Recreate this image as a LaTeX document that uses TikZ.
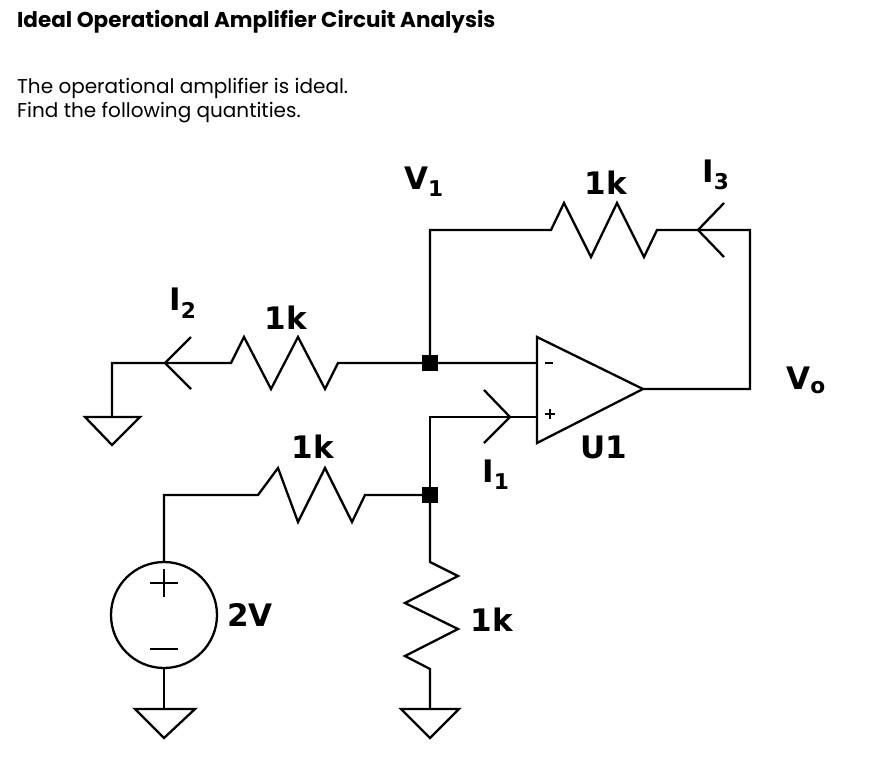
\documentclass[tikz,border=0pt]{standalone}
\usepackage{fontspec}
\setmainfont{Poppins}
\newfontfamily\cf{DejaVu Sans}
\begin{document}
\begin{tikzpicture}[x=1pt,y=-1pt,line width=2.3pt,line join=miter,
  lbl/.style={font=\cf\bfseries\fontsize{31}{34}\selectfont,inner sep=0},
  txt/.style={font=\fontsize{20}{22}\selectfont,inner sep=0,anchor=west}]
\useasboundingbox (0,0) rectangle (877,777);
\node[txt,font=\bfseries\fontsize{21.5}{24}\selectfont] (title) at (16,22) {Ideal Operational Amplifier Circuit Analysis};
\node[txt] (t1) at (16,88) {The operational amplifier is ideal.};
\node[txt] (t2) at (16,113) {Find the following quantities.};
% opamp
\draw (537,337) -- (643,389) -- (537,443) -- cycle;
\draw[line width=1.6pt] (545,363) -- (553,363) (545,414) -- (555,414) (550,409) -- (550,419);
% coordinates
\coordinate (J1) at (430,363);
\coordinate (J2) at (430,495);
% feedback
\draw (J1) -- (430,230) -- (551,230) -- (564,203) -- (591,257) -- (617,203) -- (644,257) -- (657,230) -- (750,230) -- (750,389) -- (643,389);
\draw (724,203) -- (698,230) -- (724,257);
% minus input
\draw (537,363) -- (J1) -- (338,363) -- (325,389) -- (298,337) -- (271,389) -- (244,337) -- (231,363) -- (112,363) -- (112,417);
\draw (191,337) -- (165,363) -- (191,389);
\draw (85,417) -- (140,417) -- (112,445) -- cycle;
% plus input
\draw (537,417) -- (430,417) -- (J2);
\draw (484,390) -- (510,417) -- (484,443);
% lower resistor
\draw (J2) -- (365,495) -- (352,522) -- (325,468) -- (298,522) -- (278,468) -- (258,495) -- (164,495) -- (164,562);
% source
\draw (164,615) circle (53);
\draw[line width=1.6pt] (150,583) -- (178,583) (164,569) -- (164,597) (150,649) -- (178,649);
\draw (164,668) -- (164,709);
\draw (135,709) -- (195,709) -- (164,738) -- cycle;
% vertical resistor
\draw (J2) -- (430,562) -- (458,576) -- (405,603) -- (458,629) -- (405,656) -- (430,669) -- (430,709);
\draw (401,709) -- (459,709) -- (430,738) -- cycle;
% junctions
\fill (J1) +(-8,-8) rectangle +(8,8);
\fill (J2) +(-8,-8) rectangle +(8,8);
% labels
\node[lbl] (v1) at (424,182) {V\textsubscript{1}};
\node[lbl] (r3) at (606,183) {1k};
\node[lbl] (i3) at (716,175) {I\textsubscript{3}};
\node[lbl] (i2) at (183,303) {I\textsubscript{2}};
\node[lbl] (r2) at (286,318) {1k};
\node[lbl] (vo) at (806,380) {V\textsubscript{o}};
\node[lbl] (r1) at (313,447) {1k};
\node[lbl] (u1) at (604,447) {U1};
\node[lbl] (i1) at (496,475) {I\textsubscript{1}};
\node[lbl] (v2) at (250,615) {2V};
\node[lbl] (r4) at (492,620) {1k};
\end{tikzpicture}
\end{document}
